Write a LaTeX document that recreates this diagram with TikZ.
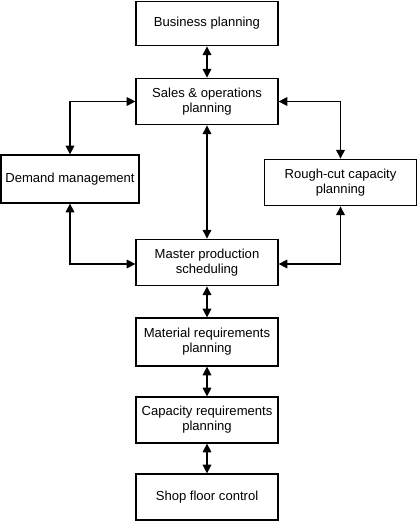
\documentclass[tikz,border=0pt]{standalone}
\usepackage{fontspec}
\setmainfont{Liberation Sans}
\usepackage{tikz}
\usetikzlibrary{calc}
\usetikzlibrary{arrows.meta}
\tikzset{
  planbox/.style={draw=black, line width=0.9pt, fill=white, align=center,
    inner sep=0pt, minimum width=106.5pt, minimum height=35pt,
    font=\fontsize{9.8pt}{11.4pt}\selectfont},
  link/.style={line width=0.9pt, {Triangle[length=6.5pt,width=6.5pt]}-{Triangle[length=6.5pt,width=6.5pt]}},
}

\begin{document}
\begin{tikzpicture}[x=0.75pt,y=-0.75pt]

%%%%%%%%%%%%%%%%%%%%%%%%%%%%%%%%%%%%%%%%%%%%%%%%%%%%%%%%%%%%%% Setup
\coordinate (C) at (207,0);
% fixed frame of the picture
\useasboundingbox (0,0) rectangle (418,521);

%%%%%%%%%%%%%%%%%%%%%%%%%%%%%%%%%%%%%%%%%%%%%%%%%%%%%%%%%%%%%% Boxes
\node[planbox, minimum height=33.5pt] (BP) at ($(C)+(0,23.5)$) {Business planning};
\node[planbox] (SOP) at ($(C)+(0,101.5)$) {Sales \& operations\\planning};
\node[planbox, minimum width=103.5pt, minimum height=36pt] (DM) at (70,179) {Demand management};
\node[planbox, minimum width=114.5pt] (RCP) at (340.5,182.5) {Rough-cut capacity\\planning};
\node[planbox] (MPS) at ($(C)+(0,262.5)$) {Master production\\scheduling};
\node[planbox, minimum height=36pt] (MRP) at ($(C)+(0,342)$) {Material requirements\\planning};
\node[planbox, minimum height=34.5pt] (CRP) at ($(C)+(0,420)$) {Capacity requirements\\planning};
\node[planbox, minimum height=34.5pt] (SFC) at ($(C)+(0,497)$) {Shop floor control};

%%%%%%%%%%%%%%%%%%%%%%%%%%%%%%%%%%%%%%%%%%%%%%%%%%%%%%%%%%%%%% Links
\draw[link] (BP.south) -- (SOP.north);
\draw[link] (SOP.south) -- (MPS.north);
\draw[link] (MPS.south) -- (MRP.north);
\draw[link] (MRP.south) -- (CRP.north);
\draw[link] (CRP.south) -- (SFC.north);

\draw[link] (SOP.west) -| (DM.north);
\draw[link] (DM.south) |- ($(MPS.west)+(0,1.5)$);
\draw[link] (SOP.east) -| (RCP.north);
\draw[link] (RCP.south) |- ($(MPS.east)+(0,1.5)$);

\end{tikzpicture}
\end{document}
